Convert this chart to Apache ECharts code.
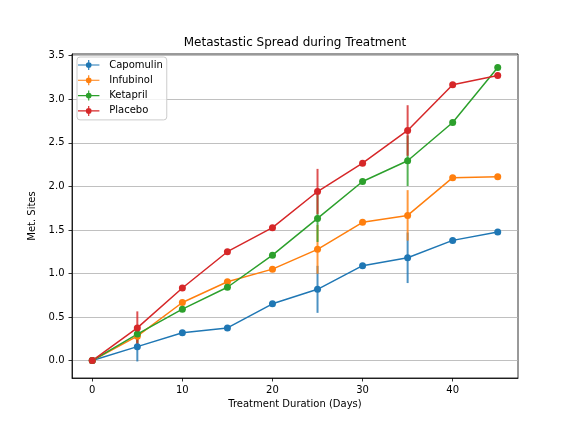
<!DOCTYPE html>
<html>
<head>
<meta charset="UTF-8">
<title>Metastastic Spread during Treatment</title>
<style>
  html, body { margin: 0; padding: 0; background: #fff; }
  #main { width: 576px; height: 432px; }
</style>
</head>
<body>
<div id="main"></div>
<script src="https://cdn.jsdelivr.net/npm/echarts@6/dist/echarts.min.js"></script>
<script>
// values
var days = [0, 5, 10, 15, 20, 25, 30, 35, 40, 45];
var drugs = ['Capomulin', 'Infubinol', 'Ketapril', 'Placebo'];
var colors = ['#1f77b4', '#ff7f0e', '#2ca02c', '#d62728'];

var capomulin = [0, 0.16, 0.32, 0.375, 0.652, 0.818, 1.09, 1.18, 1.38, 1.476];
var infubinol = [0, 0.28, 0.667, 0.905, 1.05, 1.277, 1.588, 1.667, 2.1, 2.111];
var ketapril  = [0, 0.304, 0.59, 0.842, 1.21, 1.632, 2.056, 2.294, 2.733, 3.364];
var placebo   = [0, 0.375, 0.833, 1.25, 1.526, 1.941, 2.267, 2.642, 3.167, 3.273];

// error bars only drawn at some days in the reference
var capErr = [null, 0.17, null, null, null, 0.27, null, 0.29, null, null];
var infErr = [null, 0.10, null, null, null, 0.28, null, 0.29, null, null];
var ketErr = [null, 0.10, null, null, null, 0.27, null, 0.29, null, null];
var plaErr = [null, 0.19, null, null, null, 0.26, null, 0.29, null, null];

var yTicks = [0, 0.5, 1, 1.5, 2, 2.5, 3, 3.5];
var xTicks = [0, 10, 20, 30, 40];

var values = [capomulin, infubinol, ketapril, placebo];
var errors = [capErr, infErr, ketErr, plaErr];

var font = 'DejaVu Sans';
var legendIcon = 'path://M0,6.2H30V7.8H0Z M14.2,0H15.8V14H14.2Z M11,7A4,4 0 1,1 19,7A4,4 0 1,1 11,7Z';

var series = [];
drugs.forEach(function (name, k) {
  var bars = [];
  for (var i = 0; i < days.length; i++) {
    if (errors[k][i] != null) bars.push([days[i], values[k][i], errors[k][i]]);
  }
  series.push({
    type: 'custom',
    silent: true,
    data: bars,
    renderItem: (function (c) {
      return function (params, api) {
        var x = api.value(0), y = api.value(1), e = api.value(2);
        var p1 = api.coord([x, y - e]);
        var p2 = api.coord([x, y + e]);
        return {
          type: 'line',
          shape: { x1: p1[0], y1: p1[1], x2: p2[0], y2: p2[1] },
          style: { stroke: c, lineWidth: 2, opacity: 0.8 }
        };
      };
    })(colors[k])
  });
  series.push({
    name: name,
    type: 'line',
    data: days.map(function (d, i) { return [d, values[k][i]]; }),
    symbol: 'circle',
    symbolSize: 7,
    lineStyle: { color: colors[k], width: 1.5 },
    itemStyle: { color: colors[k] },
    emphasis: { disabled: true }
  });
});

var chart = echarts.init(document.getElementById('main'));
chart.setOption({
  animation: false,
  backgroundColor: '#fff',
  textStyle: { fontFamily: font },
  title: {
    text: 'Metastastic Spread during Treatment',
    left: 295,
    top: 37,
    padding: 0,
    textAlign: 'center',
    textStyle: { fontFamily: font, fontSize: 12, fontWeight: 'normal', color: '#000' }
  },
  legend: {
    data: drugs,
    orient: 'vertical',
    left: 77,
    top: 57,
    padding: [3, 4, 4, 1],
    itemWidth: 23,
    itemHeight: 10,
    itemGap: 5.3,
    icon: legendIcon,
    backgroundColor: 'rgba(255,255,255,0.8)',
    borderColor: '#cccccc',
    borderWidth: 1,
    borderRadius: 3,
    textStyle: { fontFamily: font, fontSize: 10, color: '#000', padding: [0, 0, 0, 4] }
  },
  grid: {
    left: 72, right: 58, top: 54, bottom: 54,
    show: true,
    borderColor: '#000',
    borderWidth: 0.8
  },
  xAxis: {
    type: 'value',
    min: -2.25,
    max: 47.25,
    name: 'Treatment Duration (Days)',
    nameLocation: 'middle',
    nameGap: 19,
    nameTextStyle: { fontFamily: font, fontSize: 10, color: '#000' },
    axisLine: { onZero: false, lineStyle: { color: '#000', width: 0.8 } },
    axisTick: { show: true, length: 3.5, lineStyle: { color: '#000', width: 0.8 }, customValues: xTicks },
    axisLabel: { fontFamily: font, fontSize: 10, color: '#000', margin: 7, customValues: xTicks },
    splitLine: { show: false }
  },
  yAxis: {
    type: 'value',
    min: -0.2,
    max: 3.52,
    name: 'Met. Sites',
    nameLocation: 'middle',
    nameGap: 28,
    nameRotate: 90,
    nameTextStyle: { fontFamily: font, fontSize: 10, color: '#000' },
    axisLine: { show: true, onZero: false, lineStyle: { color: '#000', width: 0.8 } },
    axisTick: { show: true, length: 3.5, lineStyle: { color: '#000', width: 0.8 }, customValues: yTicks },
    axisLabel: {
      fontFamily: font, fontSize: 10, color: '#000', margin: 7.5,
      customValues: yTicks,
      formatter: function (v) { return v.toFixed(1); }
    },
    splitLine: { show: true, lineStyle: { color: '#b0b0b0', width: 0.8 } }
  },
  series: series
});
</script>
</body>
</html>
